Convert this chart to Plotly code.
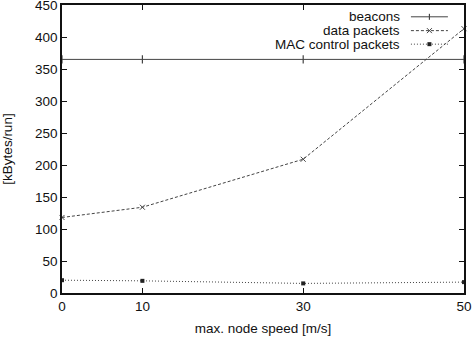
import plotly.graph_objects as go

# ---- data ----
speed = [0, 10, 30, 50]
beacons = [365, 365, 365, 365]
data_packets = [118, 134, 209, 413]
mac_control = [20, 19, 15, 17]

x_ticks = [0, 10, 30, 50]
y_ticks = [0, 50, 100, 150, 200, 250, 300, 350, 400, 450]

series_names = ["beacons", "data packets", "MAC control packets"]

FONT = "Liberation Sans, Arial, Helvetica, sans-serif"
LINE_COL = "#444444"
TXT = "#111111"

fig = go.Figure()

fig.add_trace(go.Scatter(
    x=speed, y=beacons, mode="lines+markers", name=series_names[0],
    line=dict(color=LINE_COL, width=1, dash="solid"),
    marker=dict(symbol="line-ns", size=6, line=dict(color=LINE_COL, width=1.2)),
    cliponaxis=False, showlegend=False))

fig.add_trace(go.Scatter(
    x=speed, y=data_packets, mode="lines+markers", name=series_names[1],
    line=dict(color=LINE_COL, width=1, dash="3px,2px"),
    marker=dict(symbol="x-thin", size=5, line=dict(color=LINE_COL, width=1)),
    cliponaxis=False, showlegend=False))

fig.add_trace(go.Scatter(
    x=speed, y=mac_control, mode="lines+markers", name=series_names[2],
    line=dict(color=LINE_COL, width=1, dash="1px,2px"),
    marker=dict(symbol="square", size=4, color="#222222"),
    cliponaxis=False, showlegend=False))

# ---- gnuplot-style legend (text right-aligned, sample to the right) ----
rows_y = [0.959, 0.911, 0.864]
text_x = 0.846
s_x0, s_x1, s_xc = 0.868, 0.960, 0.914
dashes = ["solid", "3px,2px", "1px,2px"]
annotations = []
shapes = []
for name, ry, dsh in zip(series_names, rows_y, dashes):
    annotations.append(dict(
        x=text_x, y=ry, xref="paper", yref="paper", text=name, showarrow=False,
        xanchor="right", yanchor="middle", font=dict(family=FONT, size=13.5, color=TXT)))
    shapes.append(dict(type="line", xref="paper", yref="paper", x0=s_x0, x1=s_x1, y0=ry, y1=ry,
                       line=dict(color=LINE_COL, width=1, dash=dsh)))
r0, r1, r2 = rows_y
shapes.append(dict(type="line", xref="paper", yref="paper", xsizemode="pixel", xanchor=s_xc,
                   x0=0, x1=0, ysizemode="pixel", yanchor=r0, y0=-3, y1=3,
                   line=dict(color=LINE_COL, width=1.2)))
shapes.append(dict(type="line", xref="paper", yref="paper", xsizemode="pixel", xanchor=s_xc,
                   x0=-2.5, x1=2.5, ysizemode="pixel", yanchor=r1, y0=-2.5, y1=2.5,
                   line=dict(color=LINE_COL, width=1)))
shapes.append(dict(type="line", xref="paper", yref="paper", xsizemode="pixel", xanchor=s_xc,
                   x0=-2.5, x1=2.5, ysizemode="pixel", yanchor=r1, y0=2.5, y1=-2.5,
                   line=dict(color=LINE_COL, width=1)))
shapes.append(dict(type="rect", xref="paper", yref="paper", xsizemode="pixel", xanchor=s_xc,
                   x0=-2, x1=2, ysizemode="pixel", yanchor=r2, y0=-2, y1=2,
                   line=dict(color="#222222", width=0), fillcolor="#222222"))

axis_common = dict(
    showgrid=False, zeroline=False, showline=True, linecolor=TXT, linewidth=1.5,
    mirror="ticks", ticks="inside", ticklen=5, tickwidth=1, tickcolor=TXT,
    tickfont=dict(family=FONT, size=13.5, color=TXT),
    automargin=False, ticklabeloverflow="allow",
)

fig.update_layout(
    template="none",
    width=474, height=362,
    margin=dict(l=62, r=10, t=5, b=69, pad=0),
    paper_bgcolor="white", plot_bgcolor="white",
    font=dict(family=FONT, size=13.5, color=TXT),
    xaxis=dict(range=[0, 50], tickvals=x_ticks, ticktext=[str(v) for v in x_ticks],
               title=dict(text="max. node speed [m/s]", standoff=11,
                          font=dict(family=FONT, size=13.5, color=TXT)),
               **axis_common),
    yaxis=dict(range=[0, 450], tickvals=y_ticks, ticktext=[str(v) for v in y_ticks],
               title=dict(text="[kBytes/run]", standoff=25,
                          font=dict(family=FONT, size=13.5, color=TXT)),
               **axis_common),
    annotations=annotations,
    shapes=shapes,
    showlegend=False,
)

fig.write_html("out.html", config={"displayModeBar": False},
               post_script="document.body.style.margin='0';")
